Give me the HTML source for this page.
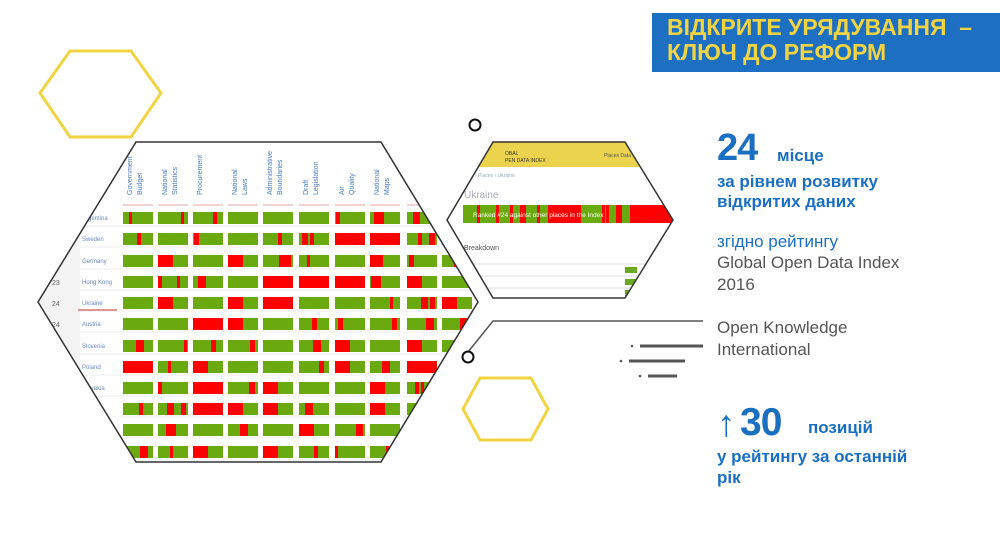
<!DOCTYPE html>
<html><head><meta charset="utf-8">
<style>
html,body{margin:0;padding:0;background:#fff;}
body{width:1000px;height:545px;position:relative;overflow:hidden;font-family:"Liberation Sans","DejaVu Sans",sans-serif;}
.t{position:absolute;white-space:nowrap;}
.b{color:#1a6fc0;font-weight:bold;}
.g{color:#555;}
</style></head><body>
<svg id="s" width="1000" height="545" style="position:absolute;left:0;top:0">
<defs>
<clipPath id="c1"><polygon points="136,142 381,142 478,302 381,462 136,462 38,302"/></clipPath>
<clipPath id="c2"><polygon points="493,142 625,142 673,220 625,298 493,298 447,220"/></clipPath>
</defs>
<rect x="652" y="13" width="348" height="59" fill="#1c6fc1"/>
<polygon points="40,93 70,51 131,51 161,93 131,137 70,137" fill="none" stroke="#f0d443" stroke-width="3"/>
<polygon points="463,409 480,378 531,378 548,409 531,440 480,440" fill="none" stroke="#f0d443" stroke-width="3"/>
<g id="t1" clip-path="url(#c1)"></g>
<polygon points="136,142 381,142 478,302 381,462 136,462 38,302" fill="none" stroke="#333" stroke-width="1.5"/>
<g id="t2" clip-path="url(#c2)">
<rect x="440" y="142" width="240" height="25" fill="#ecd34e"/>
<text x="505" y="155" font-size="5" fill="#333">OBAL</text>
<text x="505" y="162" font-size="5" fill="#333">PEN DATA INDEX</text>
<text x="604" y="157" font-size="5" fill="#555">Places  Data</text>
<text x="475" y="177" font-size="5" fill="#9ab">› Places › Ukraine</text>
<text x="464" y="198" font-size="10" fill="#aab">Ukraine</text>
<text x="464" y="250" font-size="7" fill="#555">Breakdown</text>
<line x1="464" y1="264" x2="680" y2="264" stroke="#ddd"/>
<line x1="464" y1="276" x2="680" y2="276" stroke="#ddd"/>
<line x1="464" y1="288" x2="680" y2="288" stroke="#ddd"/>
<rect x="625" y="267" width="12" height="6" fill="#6aa820"/>
<rect x="625" y="279" width="12" height="6" fill="#6aa820"/>
<rect x="625" y="290" width="12" height="6" fill="#6aa820"/>
</g>
<polygon points="493,142 625,142 673,220 625,298 493,298 447,220" fill="none" stroke="#333" stroke-width="1.5"/>
<circle cx="475" cy="125" r="5.5" fill="#fff" stroke="#111" stroke-width="2"/>
<polyline points="468,352 493,321 703,321" fill="none" stroke="#555" stroke-width="1.5"/>
<circle cx="468" cy="357" r="5.5" fill="#fff" stroke="#111" stroke-width="2"/>
<g stroke="#555" stroke-width="3">
<line x1="640" y1="346" x2="703" y2="346"/>
<line x1="629" y1="361" x2="685" y2="361"/>
<line x1="648" y1="376" x2="677" y2="376"/>
</g>
<g fill="#555"><circle cx="632" cy="346" r="1.3"/><circle cx="621" cy="361" r="1.3"/><circle cx="640" cy="376" r="1.3"/></g>
</svg>
<div class="t" style="left:667px;top:15px;font-size:23px;font-weight:bold;color:#f2d443;line-height:25px;">ВІДКРИТЕ УРЯДУВАННЯ &nbsp;–<br>КЛЮЧ ДО РЕФОРМ</div>
<div class="t b" style="left:717px;top:127px;font-size:38px;letter-spacing:-1px;">24</div>
<div class="t b" style="left:777px;top:146px;font-size:17px;">місце</div>
<div class="t b" style="left:717px;top:172px;font-size:17px;line-height:20px;">за рівнем розвитку<br>відкритих даних</div>
<div class="t" style="left:717px;top:232px;font-size:17px;color:#1a6fc0;">згідно рейтингу</div>
<div class="t g" style="left:717px;top:252px;font-size:17px;line-height:22px;">Global Open Data Index<br>2016</div>
<div class="t g" style="left:717px;top:317px;font-size:17px;line-height:22px;">Open Knowledge<br>International</div>
<div class="t b" style="left:717px;top:403px;font-size:37px;font-weight:normal;">↑</div>
<div class="t b" style="left:740px;top:401px;font-size:39px;letter-spacing:-1px;">30</div>
<div class="t b" style="left:808px;top:418px;font-size:17px;">позицій</div>
<div class="t b" style="left:717px;top:446px;font-size:17px;line-height:21px;">у рейтингу за останній<br>рік</div>
<script>
var NS="http://www.w3.org/2000/svg";
function el(p,n,a,txt){var e=document.createElementNS(NS,n);for(var k in a)e.setAttribute(k,a[k]);if(txt)e.textContent=txt;p.appendChild(e);return e;}
var seed=7;function r(){seed=(seed*9301+49297)%233280;return seed/233280;}
var g=document.getElementById('t1');
el(g,'rect',{x:38,y:205,width:42,height:260,fill:'#f3f3f3'});
var heads=[["Government","Budget"],["National","Statistics"],["Procurement",""],["National","Laws"],["Administrative","Boundaries"],["Draft","Legislation"],["Air","Quality"],["National","Maps"],["",""],["",""]];
var cx=[123,158,193,228,263,299,335,370,407,442];
var ry=[218,239,261,282,303,324,346,367,388,409,430,452];
var names=["Argentina","Sweden","Germany","Hong Kong","Ukraine","Austria","Slovenia","Poland","Slovakia","","",""];
heads.forEach(function(h,i){
 [0,1].forEach(function(j){if(!h[j])return;var x=cx[i]+9+j*10;el(g,'text',{x:x,y:195,'font-size':7,fill:'#4a7bbf',transform:'rotate(-90 '+x+' 195)'},h[j]);});
 el(g,'line',{x1:cx[i],y1:205,x2:cx[i]+30,y2:205,stroke:'#d88',"stroke-width":0.8});
});
ry.forEach(function(y,ri){
 el(g,'line',{x1:80,y1:y+8,x2:480,y2:y+8,stroke:'#eee'});
 if(names[ri])el(g,'text',{x:82,y:y+2,'font-size':6,fill:'#6a8ac0'},names[ri]);
 cx.forEach(function(x){
  el(g,'rect',{x:x,y:y-6,width:30,height:12,fill:'#6aaa10'});
  var m=r();
  if(m<0.1){el(g,'rect',{x:x,y:y-6,width:30,height:12,fill:'#f00'});}
  else if(m<0.3){el(g,'rect',{x:x,y:y-6,width:15,height:12,fill:'#f00'});}
  else{var n=Math.floor(r()*3);for(var k=0;k<n;k++){var w=3+Math.floor(r()*6),xx=x+Math.floor(r()*(30-w));el(g,'rect',{x:xx,y:y-6,width:w,height:12,fill:'#f00'});}}
 });
});
el(g,'text',{x:52,y:285,'font-size':7,fill:'#666'},'23');
el(g,'text',{x:52,y:306,'font-size':7,fill:'#666'},'24');
el(g,'text',{x:52,y:327,'font-size':7,fill:'#666'},'24');
el(g,'line',{x1:78,y1:310,x2:117,y2:310,stroke:'#c33'});
var g2=document.getElementById('t2');
el(g2,'rect',{x:463,y:205,width:210,height:18,fill:'#6aaa10'});
[[477,3],[496,3],[510,3],[520,6],[537,3],[548,33],[602,3],[606,3],[616,6],[630,43]].forEach(function(a){el(g2,'rect',{x:a[0],y:205,width:a[1],height:18,fill:'#f00'});});
el(g2,'text',{x:473,y:217,'font-size':6.5,fill:'#fff'},'Ranked #24 against other places in the Index');
</script>
</body></html>
